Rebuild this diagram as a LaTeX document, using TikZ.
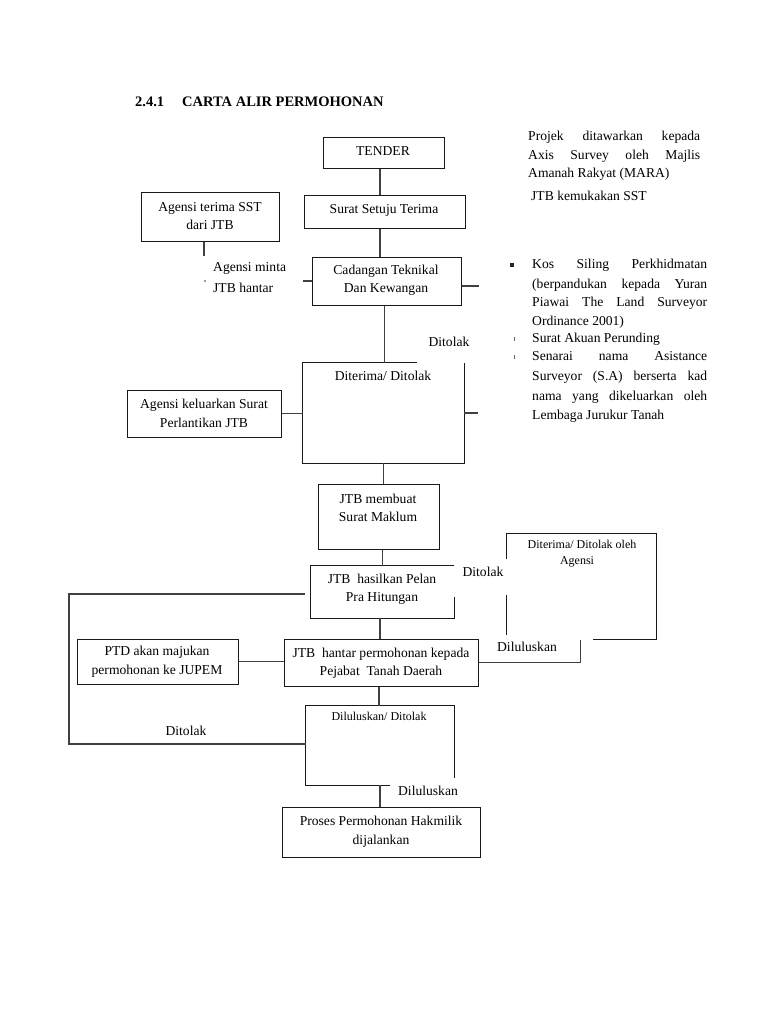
\documentclass[tikz,border=0pt]{standalone}
\usepackage{fontspec}
\setmainfont{Liberation Serif}
\newcommand\jline[1]{\makebox[175pt][s]{#1}}
\begin{document}
\begin{tikzpicture}[x=1pt,y=-1pt,
  ln/.style={line width=1.1pt, draw=black!75},
  bx/.style={draw=black!90, line width=1.0pt, inner sep=0pt},
  bl/.style={line width=1.0pt, draw=black!90},
  sh/.style={inner sep=0pt},
  txt/.style={font=\fontsize{13.6}{18.5}\selectfont, inner sep=0pt, align=center},
  one/.style={txt, text height=9pt, text depth=2.5pt},
  sm/.style={font=\fontsize{12}{14}\selectfont, inner sep=0pt, text height=8pt, text depth=2.2pt},
  ttl/.style={one, font=\fontsize{14.5}{17}\selectfont\bfseries}]
\fill[white] (0,0) rectangle (768,1024);
\useasboundingbox (0,0) rectangle (768,1024);

% title
\node[ttl, anchor=west] (tnum) at (135,103) {2.4.1};
\node[ttl, anchor=west] (ttitle) at (182,103) {CARTA ALIR PERMOHONAN};

% boxes
\node[bx, minimum width=121pt, minimum height=31pt] (tender) at (383.5,153.5) {};
\node[one] (ttender) at (383,152) {TENDER};
\node[bx, minimum width=161pt, minimum height=33pt] (surat) at (384.5,212.5) {};
\node[one] (tsurat) at (384,210) {Surat Setuju Terima};
\node[bx, minimum width=138pt, minimum height=48pt] (agt) at (210,217) {};
\node[txt] (tagt) at (210,216) {Agensi terima SST\\dari JTB};
\node[bx, minimum width=149pt, minimum height=48pt] (cad) at (386.5,281) {};
\node[txt] (tcad) at (386,280) {Cadangan Teknikal\\Dan Kewangan};

\node[sh, minimum width=161pt, minimum height=100pt] (dit) at (383.5,413) {};
\draw[bl] ([xshift=114pt]dit.north west) -- (dit.north west) -- (dit.south west) -- (dit.south east) -- (dit.north east);
\node[one] (tdit) at (383,377) {Diterima/ Ditolak};

\node[bx, minimum width=154pt, minimum height=47pt] (ak) at (204,413.5) {};
\node[txt] (tak) at (204,413.5) {Agensi keluarkan Surat\\Perlantikan JTB};

\node[bx, minimum width=121pt, minimum height=65pt] (jm) at (378.5,516.5) {};
\node[txt] (tjm) at (378,508) {JTB membuat\\Surat Maklum};

\node[sh, minimum width=143pt, minimum height=52pt] (jh) at (382.5,592) {};
\draw[bl] (jh.north east) -- (jh.north west) -- (jh.south west) -- (jh.south east) -- ([yshift=21pt]jh.south east);
\node[txt] (tjh) at (382,589) {JTB\ \ hasilkan Pelan\\Pra Hitungan};

\node[sh, minimum width=149pt, minimum height=105pt] (ag) at (581.5,586.5) {};
\draw[bl] ([yshift=-25pt]ag.north west) -- (ag.north west) -- (ag.north east) -- (ag.south east) -- ([xshift=-63pt]ag.south east);
\draw[bl] ([yshift=-61pt]ag.north west) -- ([yshift=4pt]ag.south west);
\node[sm] (tag1) at (582,546) {Diterima/ Ditolak oleh};
\node[sm] (tag2) at (577,562) {Agensi};

\node[bx, minimum width=194pt, minimum height=47pt] (jht) at (381,662.5) {};
\node[txt] (tjht) at (381,663) {JTB\ \ hantar permohonan kepada\\Pejabat\ \ Tanah Daerah};

\node[bx, minimum width=161pt, minimum height=45pt] (ptd) at (157.5,661.5) {};
\node[txt] (tptd) at (157,661.5) {PTD akan majukan\\permohonan ke JUPEM};

\node[sh, minimum width=148pt, minimum height=79pt] (dd) at (380,745.5) {};
\draw[bl] ([yshift=7pt]dd.south east) -- (dd.north east) -- (dd.north west) -- (dd.south west) -- ([xshift=84pt]dd.south west);
\node[sm] (tdd) at (379,718) {Diluluskan/ Ditolak};

\node[bx, minimum width=198pt, minimum height=50pt] (pr) at (381,832) {};
\node[txt] (tpr) at (381,831.5) {Proses Permohonan Hakmilik\\dijalankan};

% connectors
\draw[ln] ([xshift=-3.5pt]tender.south) -- ([xshift=-3.5pt]tender.south |- surat.north);
\draw[ln] ([xshift=-4.5pt]surat.south) -- ([xshift=-4.5pt]surat.south |- cad.north);
\draw[ln] ([xshift=-2pt]cad.south) -- ([xshift=-2pt]cad.south |- dit.north);
\draw[ln] ([xshift=-6pt]agt.south) -- ++(0,14);
\fill[black!80] (205,281) circle (0.8);
\draw[ln] (cad.west) -- ++(-9,0);
\draw[ln] ([yshift=-5pt]cad.east) -- ++(17,0);
\draw[ln] (ak.east) -- (ak.east -| dit.west);
\draw[ln] (dit.east) -- ++(14,0);
\draw[ln] (dit.south) -- (dit.south |- jm.north);
\draw[ln] ([xshift=4pt]jm.south) -- ([xshift=4pt]jm.south |- jh.north);
\draw[ln] ([xshift=-2.5pt]jh.south) -- ([xshift=-2.5pt]jh.south |- jht.north);
\coordinate (lft) at (69,744);
\draw[ln] ([xshift=-6pt,yshift=-2pt]jh.west) -| (lft) -- (lft -| dd.west);
\draw[ln] (ptd.east) -- (ptd.east -| jht.west);
\draw[ln] (jht.east) -- ++(102,0) -- ++(0,-23);
\draw[ln] ([xshift=-2pt]jht.south) -- ([xshift=-2pt]jht.south |- dd.north);
\draw[ln] (dd.south) -- (dd.south |- pr.north);

% labels
\node[one] (l1) at (449,343) {Ditolak};
\node[one] (l2) at (483,573) {Ditolak};
\node[one] (l3) at (527,648) {Diluluskan};
\node[one] (l4) at (186,732) {Ditolak};
\node[one] (l5) at (428,792) {Diluluskan};
\node[one, anchor=west] (am1) at (213,268) {Agensi minta};
\node[one, anchor=west] (am2) at (213,289) {JTB hantar};

% right texts
\node[one, anchor=west] (p1) at (528,137) {\makebox[172pt][s]{Projek ditawarkan kepada}};
\node[one, anchor=west] (p2) at (528,156) {\makebox[172pt][s]{Axis Survey oleh Majlis}};
\node[one, anchor=west] (p3) at (528,174) {Amanah Rakyat (MARA)};
\node[one, anchor=west] (p4) at (531,197) {JTB kemukakan SST};

\fill[black!85] (510,263) rectangle (514,267);
\node[one, anchor=west] (b1) at (532,265) {\jline{Kos Siling Perkhidmatan}};
\node[one, anchor=west] (b2) at (532,285) {\jline{(berpandukan kepada Yuran}};
\node[one, anchor=west] (b3) at (532,303) {\jline{Piawai The Land Surveyor}};
\node[one, anchor=west] (b4) at (532,322) {Ordinance 2001)};
\draw[line width=0.7pt, black!60] (514,337) -- (514,341);
\node[one, anchor=west] (b5) at (532,339) {Surat Akuan Perunding};
\draw[line width=0.7pt, black!60] (514,355) -- (514,359);
\node[one, anchor=west] (b6) at (532,357) {\jline{Senarai nama Asistance}};
\node[one, anchor=west] (b7) at (532,377) {\jline{Surveyor (S.A) berserta kad}};
\node[one, anchor=west] (b8) at (532,397) {\jline{nama yang dikeluarkan oleh}};
\node[one, anchor=west] (b9) at (532,416) {Lembaga Jurukur Tanah};
\end{tikzpicture}
\end{document}
